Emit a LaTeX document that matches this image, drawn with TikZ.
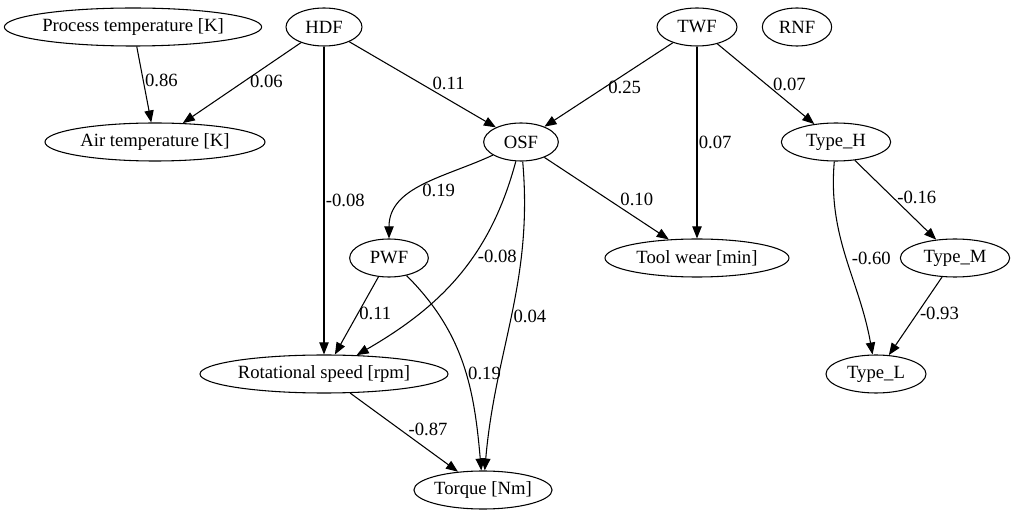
\documentclass[tikz,border=0pt]{standalone}
\usepackage{fontspec}
\setmainfont{Liberation Serif}
\usetikzlibrary{shapes.geometric,arrows.meta}
\begin{document}
\begin{tikzpicture}[x=0.75pt,y=-0.75pt,
  n/.style={ellipse,draw,line width=0.8pt,inner sep=0pt,minimum height=28.5pt,font=\fontsize{14}{16}\selectfont},
  e/.style={-{Triangle[length=9pt,width=7pt]},line width=0.8pt},
  l/.style={font=\fontsize{14}{16}\selectfont,inner sep=1pt}]
\useasboundingbox (0,0) rectangle (1015,520);
\node[n,minimum width=193pt] (pt) at (133,27) {Process temperature [K]};
\node[n,minimum width=57pt] (hdf) at (324,27) {HDF};
\node[n,minimum width=60pt] (twf) at (697,27) {TWF};
\node[n,minimum width=52pt] (rnf) at (797,27) {RNF};
\node[n,minimum width=165pt] (at) at (155,142) {Air temperature [K]};
\node[n,minimum width=56pt] (osf) at (521,142) {OSF};
\node[n,minimum width=82pt] (th) at (836,142) {Type\_H};
\node[n,minimum width=59pt] (pwf) at (389,258) {PWF};
\node[n,minimum width=138pt] (tw) at (697,258) {Tool wear [min]};
\node[n,minimum width=82pt] (tm) at (955,258) {Type\_M};
\node[n,minimum width=186pt] (rs) at (324,374) {Rotational speed [rpm]};
\node[n,minimum width=75pt] (tl) at (876,374) {Type\_L};
\node[n,minimum width=96pt] (tq) at (483,490) {Torque [Nm]};
\draw[e] (pt) -- node[l,right,pos=0.45]{0.86} (at);
\draw[e] (hdf) -- node[l,pos=0.45,xshift=14pt,yshift=-2pt]{0.06} (at);
\draw[e] (hdf) -- node[l,pos=0.55,xshift=14pt,yshift=4pt]{0.11} (osf);
\draw[e] (hdf) -- node[l,right,pos=0.5]{-0.08} (rs);
\draw[e] (twf) -- node[l,pos=0.5,xshift=12pt,yshift=-2pt]{0.25} (osf);
\draw[e] (twf) -- node[l,right,pos=0.5]{0.07} (tw);
\draw[e] (twf) -- node[l,pos=0.55,xshift=14pt,yshift=3pt]{0.07} (th);
\draw[e] (osf) to[out=205,in=90] node[l,pos=0.6,xshift=20pt,yshift=2pt]{0.19} (pwf);
\draw[e] (osf) to[out=255,in=30] node[l,pos=0.4,xshift=18pt]{-0.08} (rs);
\draw[e] (osf) to[out=275,in=85] node[l,pos=0.5,right]{0.04} (tq);
\draw[e] (osf) -- node[l,pos=0.55,xshift=18pt,yshift=2pt]{0.10} (tw);
\draw[e] (th) -- node[l,pos=0.5,xshift=16pt,yshift=2pt]{-0.16} (tm);
\draw[e] (th) to[out=265,in=100] node[l,pos=0.5,right,xshift=3pt]{-0.60} (tl);
\draw[e] (tm) -- node[l,pos=0.5,xshift=18pt,yshift=2pt]{-0.93} (tl);
\draw[e] (pwf) -- node[l,pos=0.5,xshift=14pt,yshift=2pt]{0.11} (rs);
\draw[e] (pwf) to[out=-45,in=95] node[l,pos=0.55,xshift=14pt]{0.19} (tq);
\draw[e] (rs) -- node[l,pos=0.5,xshift=18pt,yshift=2pt]{-0.87} (tq);
\end{tikzpicture}
\end{document}
